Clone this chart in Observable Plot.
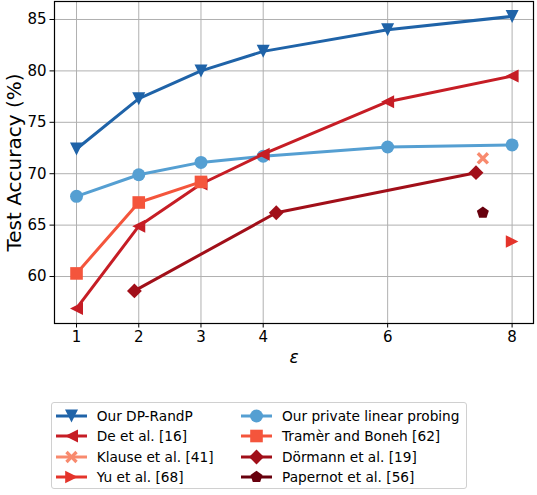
<!DOCTYPE html>
<html>
<head>
<meta charset="utf-8">
<script src="https://cdn.jsdelivr.net/npm/d3@7"></script>
<script src="https://cdn.jsdelivr.net/npm/@observablehq/plot@0.6"></script>
<style>
  body { margin: 0; background: white; font-family: "DejaVu Sans", sans-serif; }
  #wrap { position: relative; width: 537px; height: 495px; overflow: hidden; }
  #legend { position: absolute; left: 51px; top: 402px; width: 416px; height: 87px;
            border: 1px solid #d0d0d0; border-radius: 3px; box-sizing: border-box; }
  .entry { position: absolute; height: 20px; display: flex; align-items: center; }
  .entry svg { display: block; }
  .entry span { font-size: 13.7px; color: #000; white-space: nowrap; margin-left: 10px; }
</style>
</head>
<body>
<div id="wrap"></div>
<script>
// ---- data ----
const epsTicks = [1, 2, 3, 4, 6, 8];
const accTicks = [60, 65, 70, 75, 80, 85];

const dpRandPEps = [1, 2, 3, 4, 6, 8];
const dpRandPAcc = [72.4, 77.3, 80.0, 81.9, 84.0, 85.3];

const linearEps = [1, 2, 3, 4, 6, 8];
const linearAcc = [67.8, 69.9, 71.1, 71.7, 72.6, 72.8];

const deEps = [1, 2, 3, 4, 6, 8];
const deAcc = [56.9, 64.9, 69.0, 71.9, 77.0, 79.5];

const tramerEps = [1, 2, 3];
const tramerAcc = [60.3, 67.2, 69.2];

const dormannEps = [1.93, 4.21, 7.42];
const dormannAcc = [58.6, 66.2, 70.1];

const klauseEps = [7.53];
const klauseAcc = [71.5];

const yuEps = [8];
const yuAcc = [63.4];

const papernotEps = [7.53];
const papernotAcc = [66.2];

// ---- custom marker shapes (size -> diameter-like ms) ----
const msOf = size => 2 * Math.sqrt(size / Math.PI);
function poly(ctx, pts) { ctx.moveTo(pts[0][0], pts[0][1]); for (let i = 1; i < pts.length; i++) ctx.lineTo(pts[i][0], pts[i][1]); ctx.closePath(); }
const symTriDown = { draw(ctx, size) { const h = msOf(size) / 2; poly(ctx, [[0, h], [-h, -h], [h, -h]]); } };
const symTriLeft = { draw(ctx, size) { const h = msOf(size) / 2; poly(ctx, [[-h, 0], [h, -h], [h, h]]); } };
const symTriRight = { draw(ctx, size) { const h = msOf(size) / 2; poly(ctx, [[h, 0], [-h, -h], [-h, h]]); } };
const symCircle = { draw(ctx, size) { const h = msOf(size) / 2; ctx.moveTo(h, 0); ctx.arc(0, 0, h, 0, 2 * Math.PI); ctx.closePath(); } };
const symSquare = { draw(ctx, size) { const h = msOf(size) / 2; poly(ctx, [[-h, -h], [h, -h], [h, h], [-h, h]]); } };
const symDiamond = { draw(ctx, size) { const h = msOf(size) * 0.57; poly(ctx, [[0, -h], [h, 0], [0, h], [-h, 0]]); } };
const symX = { draw(ctx, size) {
  const h = msOf(size) / 2, t = h * 0.38;
  poly(ctx, [[-h + t, -h], [0, -t], [h - t, -h], [h, -h + t], [t, 0], [h, h - t], [h - t, h], [0, t], [-h + t, h], [-h, h - t], [-t, 0], [-h, -h + t]]);
} };
const symPentagon = { draw(ctx, size) {
  const R = msOf(size) / 2; const pts = [];
  for (let i = 0; i < 5; i++) { const a = -Math.PI / 2 + i * 2 * Math.PI / 5; pts.push([R * Math.cos(a), R * Math.sin(a)]); }
  poly(ctx, pts);
} };

const series = [
  { name: "Our private linear probing", eps: linearEps, acc: linearAcc, color: "#559fd2", sym: symCircle, r: 6.5, line: true },
  { name: "De et al. [16]", eps: deEps, acc: deAcc, color: "#c61d25", sym: symTriLeft, r: 6.5, line: true },
  { name: "Tramèr and Boneh [62]", eps: tramerEps, acc: tramerAcc, color: "#f4553c", sym: symSquare, r: 6.3, line: true },
  { name: "Dörmann et al. [19]", eps: dormannEps, acc: dormannAcc, color: "#a10f19", sym: symDiamond, r: 6.5, line: true },
  { name: "Klause et al. [41]", eps: klauseEps, acc: klauseAcc, color: "#f88a6e", sym: symX, r: 6.2, line: false },
  { name: "Yu et al. [68]", eps: yuEps, acc: yuAcc, color: "#e4342b", sym: symTriRight, r: 6.3, line: false },
  { name: "Papernot et al. [56]", eps: papernotEps, acc: papernotAcc, color: "#67000d", sym: symPentagon, r: 6.3, line: false },
  { name: "Our DP-RandP", eps: dpRandPEps, acc: dpRandPAcc, color: "#1f63a8", sym: symTriDown, r: 6.5, line: true }
];

const marks = [
  Plot.gridX(epsTicks, { stroke: "#b0b0b0", strokeOpacity: 1, strokeWidth: 1 }),
  Plot.gridY(accTicks, { stroke: "#b0b0b0", strokeOpacity: 1, strokeWidth: 1 })
];
for (const s of series) {
  const data = s.eps.map((e, i) => ({ e, a: s.acc[i] }));
  if (s.line) marks.push(Plot.line(data, { x: "e", y: "a", stroke: s.color, strokeWidth: 3 }));
  marks.push(Plot.dot(data, { x: "e", y: "a", symbol: s.sym, r: s.r, fill: s.color, stroke: "none" }));
}
marks.push(
  Plot.frame({ stroke: "black", strokeWidth: 1.2 }),
  Plot.axisX(epsTicks, { tickSize: 4.5, tickPadding: 3, fontSize: 15, label: null, stroke: "black" }),
  Plot.axisY(accTicks, { tickSize: 4.5, tickPadding: 3.5, fontSize: 15, label: null, stroke: "black" }),
  Plot.text(["Test Accuracy (%)"], { frameAnchor: "left", textAnchor: "middle", dx: -40, rotate: -90, fontSize: 20, fill: "black" }),
  Plot.text(["ε"], { frameAnchor: "bottom", textAnchor: "middle", dy: 39, fontSize: 17, fontStyle: "italic", fill: "black" })
);

const chart = Plot.plot({
  width: 537,
  height: 380,
  marginLeft: 54,
  marginRight: 4,
  marginTop: 1,
  marginBottom: 57,
  x: { domain: [0.646, 8.344] },
  y: { domain: [55.43, 86.75] },
  style: { fontFamily: "DejaVu Sans", fontSize: "15px", background: "white", color: "black" },
  marks
});
const wrap = document.getElementById("wrap");
wrap.appendChild(chart);

// ---- legend ----
const legendOrder = [
  ["Our DP-RandP", 0, 0], ["De et al. [16]", 0, 1], ["Klause et al. [41]", 0, 2], ["Yu et al. [68]", 0, 3],
  ["Our private linear probing", 1, 0], ["Tramèr and Boneh [62]", 1, 1], ["Dörmann et al. [19]", 1, 2], ["Papernot et al. [56]", 1, 3]
];
const legend = document.createElement("div");
legend.id = "legend";
wrap.appendChild(legend);
const colX = [3.7, 189];
const rowY = [2.7, 23, 43.7, 64.3];
for (const [name, c, r] of legendOrder) {
  const s = series.find(d => d.name === name);
  const entry = document.createElement("div");
  entry.className = "entry";
  entry.style.left = colX[c] + "px";
  entry.style.top = rowY[r] + "px";
  const svg = d3.create("svg").attr("width", 31).attr("height", 20);
  svg.append("line").attr("x1", 0).attr("x2", 31).attr("y1", 10).attr("y2", 10)
    .attr("stroke", s.color).attr("stroke-width", 3);
  const p = d3.path();
  s.sym.draw(p, Math.PI * s.r * s.r);
  svg.append("path").attr("d", p.toString()).attr("transform", "translate(15.5,10)").attr("fill", s.color);
  entry.appendChild(svg.node());
  const span = document.createElement("span");
  span.textContent = name;
  entry.appendChild(span);
  legend.appendChild(entry);
}
</script>
</body>
</html>
